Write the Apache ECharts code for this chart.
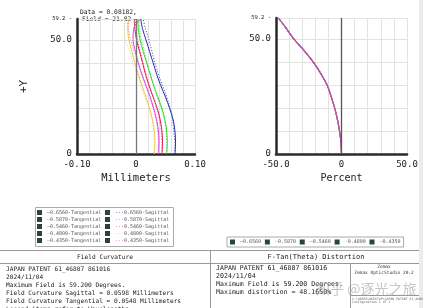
<!DOCTYPE html>
<html><head><meta charset="utf-8">
<script src="https://cdn.jsdelivr.net/npm/echarts@6/dist/echarts.min.js"></script>
<style>html,body{margin:0;padding:0;background:#fff}#c{width:423px;height:308px}</style>
</head><body><div id="c"></div>
<script>
// ---------- data ----------
const fieldDeg = [0, 5, 10, 15, 20, 25, 30, 35, 40, 45, 50, 55, 59.2];
const wavelengths = ['0.6560', '0.5870', '0.5460', '0.4800', '0.4350'];
const wlColors = ['#2a2ab4', '#33d433', '#e0205e', '#f0c850', '#d84ad8'];
// field curvature (mm) per wavelength, tangential (solid) / sagittal (dotted)
const tan6560 = [0.066, 0.067, 0.066, 0.063, 0.057, 0.050, 0.042, 0.035, 0.029, 0.023, 0.017, 0.011, 0.008];
const sag6560 = [0.066, 0.066, 0.064, 0.062, 0.058, 0.052, 0.045, 0.038, 0.032, 0.027, 0.022, 0.016, 0.012];
const tan5870 = [0.052, 0.053, 0.052, 0.049, 0.044, 0.037, 0.030, 0.024, 0.018, 0.012, 0.007, 0.004, 0.003];
const sag5870 = [0.052, 0.052, 0.051, 0.048, 0.043, 0.036, 0.030, 0.024, 0.019, 0.014, 0.009, 0.006, 0.005];
const tan5460 = [0.044, 0.045, 0.044, 0.041, 0.036, 0.029, 0.022, 0.016, 0.011, 0.006, 0.001, -0.002, -0.003];
const sag5460 = [0.044, 0.044, 0.043, 0.040, 0.035, 0.029, 0.023, 0.017, 0.012, 0.007, 0.003, 0.000, -0.001];
const tan4800 = [0.031, 0.032, 0.031, 0.028, 0.023, 0.017, 0.010, 0.004, -0.002, -0.007, -0.012, -0.014, -0.012];
const sag4800 = [0.031, 0.031, 0.030, 0.027, 0.022, 0.015, 0.008, 0.002, -0.005, -0.011, -0.018, -0.020, -0.019];
const tan4350 = [0.038, 0.039, 0.038, 0.035, 0.030, 0.024, 0.017, 0.010, 0.004, -0.001, -0.005, -0.004, 0.008];
const sag4350 = [0.038, 0.038, 0.037, 0.034, 0.029, 0.023, 0.016, 0.009, 0.003, -0.003, -0.009, -0.013, -0.014];
const tangentialSets = [tan6560, tan5870, tan5460, tan4800, tan4350];
const sagittalSets = [sag6560, sag5870, sag5460, sag4800, sag4350];
// F-Tan(Theta) distortion (%) - all wavelengths overlap
const distortionPct = [0, -0.4, -1.5, -3.1, -5.2, -7.9, -11.0, -15.8, -21.5, -28.5, -36.3, -42.6, -48.165];

// ---------- chart ----------
const mono = '"DejaVu Sans Mono", "Liberation Mono", monospace';
const chart = echarts.init(document.getElementById('c'), null, {renderer: 'canvas'});
const gridLine = {show: true, lineStyle: {color: '#e3e3e3', width: 1}};
const axLine = {show: true, onZero: false, lineStyle: {color: '#2a2a2a', width: 2.5}};
const yLabel = {
  fontFamily: mono, fontSize: 9, color: '#222', margin: 5, showMaxLabel: true,
  formatter: v => v === 0 ? '0' : (v === 50 ? '50.0' : (Math.abs(v - 59.2) < 1e-6 ? '{s|59.2 -}' : '')),
  rich: {s: {fontFamily: mono, fontSize: 5.5, color: '#222'}}
};

const series = [];
wavelengths.forEach((w, i) => {
  series.push({
    name: w + '-Tangential', type: 'line', xAxisIndex: 0, yAxisIndex: 0,
    data: fieldDeg.map((f, k) => [tangentialSets[i][k], f]),
    smooth: 0.35, showSymbol: false, symbol: 'none',
    lineStyle: {color: wlColors[i], width: 1, type: 'solid'}, itemStyle: {color: wlColors[i]},
    markLine: i === 0 ? {silent: true, symbol: 'none', label: {show: false}, animation: false,
      lineStyle: {color: '#777', width: 1.3, type: 'solid'}, data: [{xAxis: 0}]} : undefined
  });
  series.push({
    name: w + '-Sagittal', type: 'line', xAxisIndex: 0, yAxisIndex: 0,
    data: fieldDeg.map((f, k) => [sagittalSets[i][k], f]),
    smooth: 0.35, showSymbol: false, symbol: 'none',
    lineStyle: {color: wlColors[i], width: 0.9, type: [1, 1.8]}, itemStyle: {color: wlColors[i]}
  });
});
wavelengths.forEach((w, i) => {
  series.push({
    name: w, type: 'line', xAxisIndex: 1, yAxisIndex: 1,
    data: fieldDeg.map((f, k) => [distortionPct[k], f]),
    smooth: 0.4, showSymbol: false, symbol: 'none',
    lineStyle: {color: i === 4 ? '#b444cc' : wlColors[i], width: 1.1}, itemStyle: {color: wlColors[i]},
    markLine: i === 0 ? {silent: true, symbol: 'none', label: {show: false}, animation: false,
      lineStyle: {color: '#555', width: 1.3, type: 'solid'}, data: [{xAxis: 0}]} : undefined
  });
});

const legendRich = {};
wlColors.forEach((c, i) => { legendRich['c' + i] = {color: c, fontSize: 5, fontFamily: mono}; });
const legendFmt = name => {
  const i = wavelengths.indexOf(name.slice(0, 6));
  const mark = name.indexOf('Sagittal') >= 0 ? '···' : '—';
  return '{c' + i + '|' + mark + '}' + name;
};
const legendBase = {
  orient: 'vertical', itemWidth: 5, itemHeight: 5, itemGap: 1, padding: 0,
  selectedMode: false, icon: 'rect', itemStyle: {color: '#2a4536'},
  textStyle: {fontFamily: mono, fontSize: 5, color: '#555', lineHeight: 6, rich: legendRich},
  formatter: legendFmt
};

const T = (text, x, y, size, opts) => Object.assign({
  type: 'text', x: x, y: y, silent: true,
  style: {text: text, font: size + 'px ' + mono, fill: '#222', textVerticalAlign: 'middle', textAlign: 'left'}
}, opts || {});
const L = (x1, y1, x2, y2, color) => ({type: 'line', silent: true,
  shape: {x1: x1, y1: y1, x2: x2, y2: y2}, style: {stroke: color || '#999', lineWidth: 1}});

const graphics = [
  {type: 'rect', silent: true, shape: {x: 419, y: 0, width: 4, height: 308}, style: {fill: '#ececec'}},
  T('Data = 0.08182,', 80, 12, 6.3),
  T('Field = 21.82', 82, 19, 6.3),
  {type: 'rect', silent: true, shape: {x: 35.5, y: 207.5, width: 138, height: 39}, style: {fill: 'none', stroke: '#aaa', lineWidth: 1}},
  L(0, 250.5, 419, 250.5),
  L(0, 263.5, 419, 263.5),
  L(210.5, 250.5, 210.5, 308),
  L(350.5, 263.5, 350.5, 308),
  L(350.5, 295.5, 419, 295.5),
  {type: 'text', x: 105, y: 257, silent: true, style: {text: 'Field Curvature', font: '6.2px ' + mono, fill: '#222', textAlign: 'center', textVerticalAlign: 'middle'}},
  {type: 'text', x: 316, y: 257, silent: true, style: {text: 'F-Tan(Theta) Distortion', font: '7px ' + mono, fill: '#222', textAlign: 'center', textVerticalAlign: 'middle'}},
  T('JAPAN PATENT 61_46807 861016', 6, 269.5, 6.2),
  T('2024/11/04', 6, 277.5, 6.2),
  T('Maximum Field is 59.200 Degrees.', 6, 285.5, 6.2),
  T('Field Curvature Sagittal = 0.0598 Millimeters', 6, 293.5, 6.2),
  T('Field Curvature Tangential = 0.0548 Millimeters', 6, 301.5, 6.2),
  T('Legend items refer to Wavelengths', 6, 309.5, 6.2),
  T('JAPAN PATENT 61_46807 861016', 216, 268.5, 6.6),
  T('2024/11/04', 216, 276, 6.6),
  T('Maximum Field is 59.200 Degrees.', 216, 284.5, 6.6),
  T('Maximum distortion = 48.1650%', 216, 292.5, 6.6),
  {type: 'text', x: 384, y: 267, silent: true, style: {text: 'Zemax', font: '4.5px ' + mono, fill: '#333', textAlign: 'center', textVerticalAlign: 'middle'}},
  {type: 'text', x: 384, y: 272.5, silent: true, style: {text: 'Zemax OpticStudio 20.2', font: '4.5px ' + mono, fill: '#333', textAlign: 'center', textVerticalAlign: 'middle'}},
  {type: 'text', x: 352, y: 299, silent: true, style: {text: 'C:\\USERS\\DESKTOP\\JAPAN PATENT 61_46807.ZMX', font: '3.2px ' + mono, fill: '#666', textVerticalAlign: 'middle'}},
  {type: 'text', x: 352, y: 302.5, silent: true, style: {text: 'Configuration 1 of 1', font: '3.2px ' + mono, fill: '#666', textVerticalAlign: 'middle'}},
  {type: 'text', x: 316, y: 289, silent: true, z: 100, style: {text: '知乎 @逐光之旅', font: '14px "Noto Sans CJK SC"', fill: 'rgba(150,150,150,0.55)', textVerticalAlign: 'middle'}}
];

chart.setOption({
  animation: false,
  backgroundColor: '#fff',
  grid: [
    {left: 77, top: 19, width: 118, height: 135, containLabel: false},
    {left: 276, top: 18, width: 131, height: 136, containLabel: false}
  ],
  xAxis: [
    {gridIndex: 0, type: 'value', min: -0.1, max: 0.1, interval: 0.02,
      axisLine: axLine, axisTick: {show: false}, splitLine: gridLine,
      axisLabel: {fontFamily: mono, fontSize: 9, color: '#222', margin: 6, showMaxLabel: true, showMinLabel: true,
        formatter: v => Math.abs(v) < 1e-9 ? '0' : (Math.abs(Math.abs(v) - 0.1) < 1e-9 ? v.toFixed(2) : '')},
      name: 'Millimeters', nameLocation: 'middle', nameGap: 19,
      nameTextStyle: {fontFamily: mono, fontSize: 10.5, color: '#222'}},
    {gridIndex: 1, type: 'value', min: -50, max: 50, interval: 10,
      axisLine: axLine, axisTick: {show: false}, splitLine: gridLine,
      axisLabel: {fontFamily: mono, fontSize: 9, color: '#222', margin: 6, showMaxLabel: true, showMinLabel: true,
        formatter: v => v === 0 ? '0' : (Math.abs(v) === 50 ? v.toFixed(1) : '')},
      name: 'Percent', nameLocation: 'middle', nameGap: 19,
      nameTextStyle: {fontFamily: mono, fontSize: 10, color: '#222'}}
  ],
  yAxis: [
    {gridIndex: 0, type: 'value', min: 0, max: 59.2, interval: 10,
      axisLine: axLine, axisTick: {show: false}, splitLine: gridLine, axisLabel: yLabel,
      name: '+Y', nameLocation: 'middle', nameRotate: 90, nameGap: 47,
      nameTextStyle: {fontFamily: mono, fontSize: 11, color: '#222'}},
    {gridIndex: 1, type: 'value', min: 0, max: 59.2, interval: 10,
      axisLine: axLine, axisTick: {show: false}, splitLine: gridLine, axisLabel: yLabel}
  ],
  legend: [
    Object.assign({}, legendBase, {left: 37, top: 209.5,
      data: wavelengths.map(w => w + '-Tangential')}),
    Object.assign({}, legendBase, {left: 105, top: 209.5,
      data: wavelengths.map(w => w + '-Sagittal')}),
    Object.assign({}, legendBase, {orient: 'horizontal', left: 227, top: 237, itemGap: 3.8,
      padding: [2, 3], borderColor: '#aaa', borderWidth: 1,
      data: wavelengths.slice()})
  ],
  graphic: graphics,
  series: series
});
</script></body></html>
